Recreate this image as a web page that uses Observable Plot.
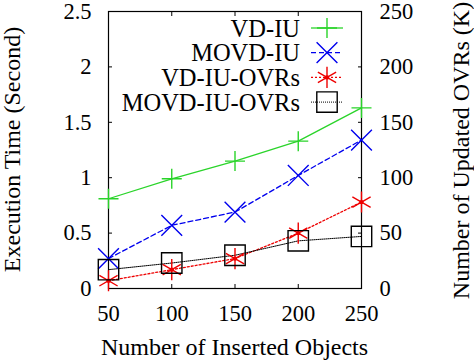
<!DOCTYPE html>
<html><head><meta charset="utf-8">
<script src="https://cdn.jsdelivr.net/npm/d3@7"></script>
<script src="https://cdn.jsdelivr.net/npm/@observablehq/plot@0.6"></script>
<style>body{margin:0;background:#fff} #chart svg{font-family:"Liberation Serif",serif;overflow:visible}</style>
</head><body><div id="chart"></div>
<script>
const xValues = [50, 100, 150, 200, 250];
const vdIU = [0.81, 0.99, 1.15, 1.33, 1.63];          // seconds (left axis)
const movdIU = [0.27, 0.57, 0.69, 1.02, 1.34];        // seconds (left axis)
const vdIUOVRs = [7, 17, 27, 50, 78];                 // K (right axis)
const movdIUOVRs = [17, 23, 30, 43, 47];              // K (right axis)
const leftTicks = [0, 0.5, 1, 1.5, 2, 2.5];
const rightTicks = [0, 50, 100, 150, 200, 250];
const seriesNames = ["VD-IU", "MOVD-IU", "VD-IU-OVRs", "MOVD-IU-OVRs"];
const seriesColors = ["#2ad42a", "#0000ee", "#ee0000", "#000000"];
const rightPerLeft = 100; // 250 K on the right == 2.5 s on the left

const W = 474, H = 364;
const mL = 108, mR = 113, mT = 11, mB = 76;
const FS_TICK = 22.5, FS_TITLE = 24, FS_LEG = 24.5;

const styles = [
  {symbol: "plus", r: 6.5, dash: null},
  {symbol: "times", r: 9.5, dash: "5,3"},
  {symbol: "asterisk", r: 10, dash: "2,2"},
  {symbol: "square2", r: 13, dash: "1,1"}
];
const d3sym = {plus: d3.symbolPlus, times: d3.symbolTimes, asterisk: d3.symbolAsterisk, square2: d3.symbolSquare2};

const valuesBySeries = [vdIU, movdIU, vdIUOVRs.map(v => v / rightPerLeft), movdIUOVRs.map(v => v / rightPerLeft)];
const rows = seriesNames.map((name, i) => xValues.map((x, j) => ({series: name, x, y: valuesBySeries[i][j]})));

const marks = [
  Plot.frame({stroke: "#000", strokeWidth: 1.2}),
  Plot.axisX(xValues, {anchor: "bottom", tickSize: -4, tickPadding: 21, fontSize: FS_TICK, label: null}),
  Plot.axisX(xValues, {anchor: "top", tickSize: -4, tickFormat: () => "", label: null}),
  Plot.axisY(leftTicks, {anchor: "left", tickSize: -4, tickPadding: 21, fontSize: FS_TICK, label: null, tickFormat: d => String(d)}),
  Plot.axisY(rightTicks.map(v => v / rightPerLeft), {anchor: "right", tickSize: -4, tickPadding: 22, fontSize: FS_TICK, label: null, tickFormat: d => String(Math.round(d * rightPerLeft))})
];
rows.forEach((data, i) => {
  const s = styles[i];
  marks.push(Plot.line(data, {x: "x", y: "y", stroke: seriesColors[i], strokeWidth: i === 3 ? 1 : 1.3, strokeDasharray: s.dash}));
});
rows.forEach((data, i) => {
  const s = styles[i];
  marks.push(Plot.dot(data, {x: "x", y: "y", symbol: s.symbol, r: s.r, stroke: seriesColors[i], strokeWidth: 1.4, fill: "none"}));
  if (s.symbol === "asterisk") marks.push(Plot.dot(data, {x: "x", y: "y", r: 2.2, fill: seriesColors[i], stroke: "none"}));
});

const chart = Plot.plot({
  width: W, height: H,
  marginLeft: mL, marginRight: mR, marginTop: mT, marginBottom: mB,
  style: {fontFamily: "Liberation Serif, serif", fontSize: FS_TICK + "px", color: "#000", background: "#fff"},
  x: {type: "linear", domain: [50, 250], axis: null},
  y: {type: "linear", domain: [0, 2.5], axis: null},
  marks
});
document.getElementById("chart").append(chart);

const svg = d3.select(chart);
// Axis titles
svg.append("text").attr("transform", `translate(12,${(mT + H - mB) / 2}) rotate(-90)`)
  .attr("text-anchor", "middle").attr("dominant-baseline", "central")
  .style("font-size", FS_TITLE + "px").attr("fill", "#000").text("Execution Time (Second)");
svg.append("text").attr("transform", `translate(461,${(mT + H - mB) / 2 + 1}) rotate(-90)`)
  .attr("text-anchor", "middle").attr("dominant-baseline", "central")
  .style("font-size", FS_TITLE + "px").attr("fill", "#000").text("Number of Updated OVRs (K)");
svg.append("text").attr("x", (mL + W - mR) / 2).attr("y", 355)
  .attr("text-anchor", "middle").style("font-size", FS_TITLE + "px").attr("fill", "#000").text("Number of Inserted Objects");

// Legend (top-right inside frame)
const lg = svg.append("g");
seriesNames.forEach((name, i) => {
  const y = 28 + i * 24.7, s = styles[i];
  lg.append("text").attr("x", 300).attr("y", y).attr("text-anchor", "end").attr("dominant-baseline", "central")
    .style("font-size", FS_LEG + "px").attr("fill", "#000").text(name);
  lg.append("line").attr("x1", 311).attr("x2", 343).attr("y1", y).attr("y2", y)
    .attr("stroke", seriesColors[i]).attr("stroke-width", i === 3 ? 1 : 1.3).attr("stroke-dasharray", s.dash);
  lg.append("path").attr("transform", `translate(327,${y})`)
    .attr("d", d3.symbol().type(d3sym[s.symbol]).size(Math.PI * s.r * s.r)())
    .attr("fill", "none").attr("stroke", seriesColors[i]).attr("stroke-width", 1.4);
  if (s.symbol === "asterisk") lg.append("circle").attr("cx", 327).attr("cy", y).attr("r", 2.2).attr("fill", seriesColors[i]);
});
</script>
</body></html>
